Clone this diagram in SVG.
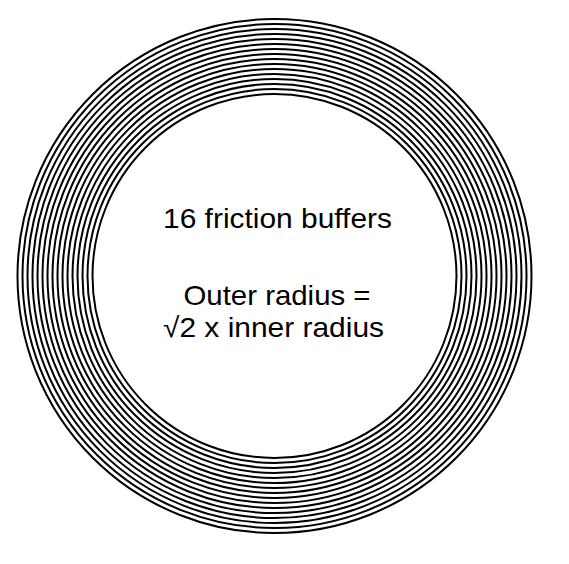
<svg xmlns="http://www.w3.org/2000/svg" width="569" height="564" viewBox="0 0 569 564">
<style>
.ring{fill:none;stroke:#000;stroke-width:2}
.t{font-family:"Liberation Sans",Arial,sans-serif;font-size:28px;fill:#000;text-anchor:middle}
</style>
<rect width="569" height="564" fill="#fff"/>
<g id="buffers">
<circle class="ring" cx="274.5" cy="276" r="182"/>
<circle class="ring" cx="274.5" cy="276" r="187"/>
<circle class="ring" cx="274.5" cy="276" r="192"/>
<circle class="ring" cx="274.5" cy="276" r="197"/>
<circle class="ring" cx="274.5" cy="276" r="202"/>
<circle class="ring" cx="274.5" cy="276" r="207"/>
<circle class="ring" cx="274.5" cy="276" r="212"/>
<circle class="ring" cx="274.5" cy="276" r="217"/>
<circle class="ring" cx="274.5" cy="276" r="222"/>
<circle class="ring" cx="274.5" cy="276" r="227"/>
<circle class="ring" cx="274.5" cy="276" r="232"/>
<circle class="ring" cx="274.5" cy="276" r="237"/>
<circle class="ring" cx="274.5" cy="276" r="242"/>
<circle class="ring" cx="274.5" cy="276" r="247"/>
<circle class="ring" cx="274.5" cy="276" r="252"/>
<circle class="ring" cx="274.5" cy="276" r="257"/>
</g>
<g id="label">
<text class="t" x="277.5" y="228" textLength="229" lengthAdjust="spacingAndGlyphs">16 friction buffers</text>
<text class="t" x="277" y="305" textLength="187" lengthAdjust="spacingAndGlyphs">Outer radius =</text>
<text class="t" x="273.5" y="337" textLength="221" lengthAdjust="spacingAndGlyphs">√2 x inner radius</text>
</g>
</svg>
